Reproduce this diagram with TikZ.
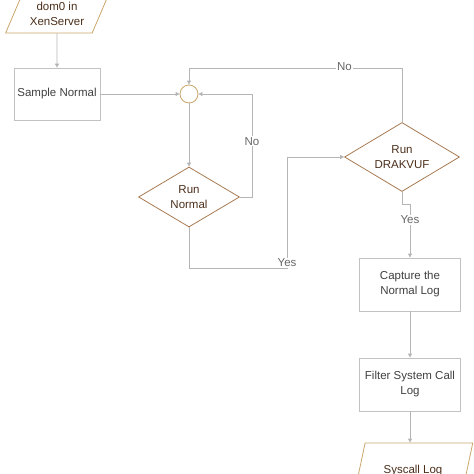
\documentclass[tikz,border=0pt]{standalone}
\usepackage{fontspec}
\setmainfont{Liberation Sans}
\usepackage{tikz}
\usetikzlibrary{arrows.meta,shapes.geometric,calc}
\definecolor{fcline}{HTML}{B5B5B5}
\definecolor{fcbox}{HTML}{C2C2C2}
\definecolor{fcbrown}{HTML}{A87A52}
\definecolor{fcgold}{HTML}{C9A66B}
\definecolor{fcink}{HTML}{4A2E1A}
\definecolor{fctext}{HTML}{404040}
\definecolor{fclabel}{HTML}{666666}

\begin{document}
\begin{tikzpicture}[
  x=1pt, y=-1pt,
  font=\fontsize{11.5}{15}\selectfont,
  conn/.style={draw=fcline, line width=0.8pt, -{Triangle[length=4pt,width=4pt]}},
  proc/.style={draw=fcbox, line width=0.8pt, fill=white, text=fctext, align=center,
    inner sep=3pt},
  decide/.style={draw=fcbrown, line width=0.8pt, diamond, shape aspect=1.67,
    inner sep=0pt, text=fcink, align=center},
  data/.style={draw=fcgold, line width=0.8pt, trapezium, trapezium left angle=65,
    trapezium right angle=115, trapezium stretches=true, text=fcink, align=center},
  lbl/.style={fill=white, inner sep=1pt, text=fclabel},
  ]
  \useasboundingbox (0,0) rectangle (474,474);

  % input and sampling
  \node[data, minimum width=103pt, minimum height=38pt] (dom) at (57,14) {dom0 in\\XenServer};
  \node[proc, minimum width=86pt, minimum height=52pt] (sample) at (57,94) {Sample Normal};
  \node[draw=fcgold, line width=0.8pt, circle, minimum size=18pt, inner sep=0pt] (join) at (189,94) {};

  % decisions
  \node[decide, minimum width=101pt, minimum height=60pt] (runnormal) at (189,197) {Run\\Normal};
  \node[decide, minimum width=115pt, minimum height=69pt] (drakvuf) at (402,157) {Run\\DRAKVUF};

  % logging
  \node[proc, minimum width=101pt, minimum height=53pt] (capture) at (410,284.5) {Capture the\\Normal Log};
  \node[proc, minimum width=101pt, minimum height=53pt] (filter) at (410,384.5) {Filter System Call\\Log};
  \node[data, minimum width=120pt, minimum height=56pt] (syscall) at (413,471) {Syscall Log};

  \draw[conn] (dom) -- (sample);
  \draw[conn] (sample) -- (join);
  \draw[conn] (join) -- (runnormal);
  \draw[conn] (runnormal.east) -- ++(12,0) |- node[lbl, pos=0.27] {No} (join.east);
  \draw[conn] (drakvuf.north) -- ++(0,-54) -| node[lbl, pos=0.135, yshift=2pt] {No} (join.north);
  \draw[conn] (runnormal.south) |- node[lbl, pos=1, yshift=5pt] {Yes}
    ($(drakvuf.west)+(-57,111)$) |- (drakvuf.west);
  \draw[conn] (drakvuf.south) -- ++(0,12) -| node[lbl, pos=0.65] {Yes} (capture.north);
  \draw[conn] (capture) -- (filter);
  \draw[conn] (filter.south) -- (filter.south |- syscall.north);
\end{tikzpicture}
\end{document}
